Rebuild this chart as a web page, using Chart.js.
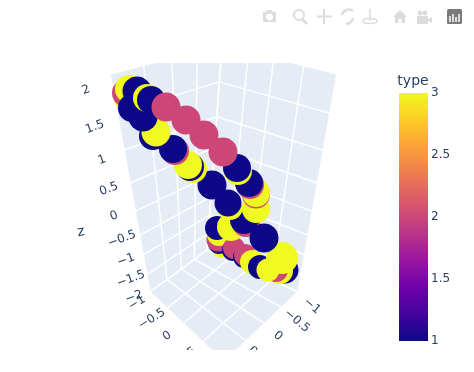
<!DOCTYPE html>
<html lang="en">
<head>
<meta charset="UTF-8">
<title>type</title>
<script src="https://cdn.jsdelivr.net/npm/chart.js"></script>
<style>
    body { margin: 0; background: #fff; }
    #wrap { position: relative; width: 474px; height: 372px; }
    #bar { position: absolute; left: 0; top: 0; }
</style>
</head>
<body>
<div id="wrap">
    <canvas id="grafico" width="474" height="372"></canvas>
    <svg id="bar" width="474" height="30" fill="#dcdcdc" stroke="none">
        <!-- camera -->
        <path d="M263 12h3l1.500-2h4l1.500 2h3v10h-13z M269.500 13.500a3.500 3.500 0 1 0 .01 0z" fill-rule="evenodd"/>
        <!-- zoom -->
        <circle cx="299" cy="15" r="5" fill="none" stroke="#dcdcdc" stroke-width="2"/>
        <path d="M302 19l5 5" stroke="#dcdcdc" stroke-width="2.500"/>
        <!-- pan -->
        <path d="M324 9v15M317 16.500h15" stroke="#dcdcdc" stroke-width="2"/>
        <!-- orbit -->
        <path d="M342 15a7 7 0 0 1 11-4M346 24a7 7 0 0 0 7-6" fill="none" stroke="#dcdcdc" stroke-width="2.500"/>
        <!-- turntable -->
        <path d="M370 9v12" stroke="#dcdcdc" stroke-width="1.500"/>
        <ellipse cx="370" cy="21" rx="7" ry="2.500" fill="none" stroke="#dcdcdc" stroke-width="1.500"/>
        <!-- home -->
        <path d="M400 10l7 7h-2v6h-3.500v-4h-3v4h-3.500v-6h-2z"/>
        <!-- video -->
        <rect x="417" y="16" width="11" height="8"/><circle cx="420" cy="13" r="2.500"/><circle cx="425" cy="13" r="2.500"/><path d="M428 19l4-2v6l-4-2z"/>
        <!-- plotly logo -->
        <rect x="447" y="9" width="15" height="15" rx="1.500" fill="#7a7a7a"/>
        <path d="M450 16v6M453 14v8M456 17v5M459 14v8" stroke="#fff" stroke-width="1.500"/>
    </svg>
</div>

<script>
    // pontos, na ordem de desenho (o de baixo primeiro)
    const pointX = [222,219,218,219,217, 233,234,244,245, 252,260, 285,280,276,268,282,
        231,246,244,264,
        256,256,256, 250,249,238,237,
        230,228,212, 193,190,188, 175,173, 153,156,
        128,126,129,132,143,137,147,151,
        166,186,204,223];
    const pointY = [248,243,240,234,228, 250,248,257,255, 262,267, 270,271,270,270,258,
        227,223,220,238,
        209,194.500,193, 185,183,171,168,
        207,203,185, 169,167,165, 151,149, 136,132,
        98,93,89,108,117,91,98,100,
        107,120,135,152];
    const pointType = [3,1,2,3,1, 1,2,1,2, 3,1, 1,3,2,3,3,
        3,2,1,1,
        3,2,3, 2,1,3,1,
        3,1,1, 3,1,3, 2,1, 1,3,
        3,2,3,1,1,1,3,1,
        2,2,2,2];
    const pointSize = [10,11,11.500,12,12, 11,11,11,11, 12,12, 13.500,13,12,11.500,16,
        14,14,14,14.500,
        14,14,14, 14,14,14,14,
        13,13.500,14.500, 14,14,14, 14,14, 14,14.500,
        14,14,14,14,14.500,14.500,14,14,
        14.500,14.500,14.500,14.500];

    const zTicks = ["2", "1.5", "1", "0.5", "0", "−0.5", "−1", "−1.5", "−2"];
    const leftTicks = ["−1", "−0.5", "0", "0.5"];
    const rightTicks = ["−1", "−0.5", "0", "0.5"];
    const colorTicks = [1, 1.5, 2, 2.5, 3];
    const colorStops = ["#0d0887", "#46039f", "#7201a8", "#9c179e", "#bd3786", "#d8576b", "#ed7953", "#fb9f3a", "#fdca26", "#f0f921"];

    const corTexto = "#2a3f5f";
    const fonte = "DejaVu Sans";

    // cantos da cena
    const topBack = [222, 45], leftTop = [110, 74], rightTop = [337, 74];
    const backFloor = [207, 250], leftFloor = [150, 292], rightFloor = [298, 292], frontFloor = [224, 362];

    const zFrac = [0, 0.18, 0.35, 0.50, 0.63, 0.74, 0.83, 0.92, 1];
    const leftFrac = [0, 0.30, 0.55, 0.78, 1];
    const rightFrac = [0, 0.23, 0.45, 0.71, 1];

    function mix(a, b, t) {
        return [a[0] + (b[0] - a[0]) * t, a[1] + (b[1] - a[1]) * t];
    }

    function corDoTipo(v) {
        if (v == 1) return "#0d0887";
        if (v == 2) return "#cc4778";
        return "#f0f921";
    }

    function linha(ctx, a, b) {
        ctx.beginPath();
        ctx.moveTo(a[0], a[1]);
        ctx.lineTo(b[0], b[1]);
        ctx.stroke();
    }

    function parede(ctx, a, b, c, d) {
        ctx.beginPath();
        [a, b, c, d].forEach(function (p) { ctx.lineTo(p[0], p[1]); });
        ctx.closePath();
        ctx.fill();
    }

    function rotulo(ctx, texto, x, y, graus, tam) {
        ctx.save();
        ctx.translate(x, y);
        ctx.rotate(graus * Math.PI / 180);
        ctx.font = tam + "px '" + fonte + "'";
        ctx.fillStyle = corTexto;
        ctx.textAlign = "center";
        ctx.textBaseline = "middle";
        ctx.fillText(texto, 0, 0);
        ctx.restore();
    }

    // paredes e grade da cena, antes dos pontos
    const cena = {
        id: "cena",
        beforeDatasetsDraw(chart) {
            const ctx = chart.ctx;
            ctx.save();
            ctx.beginPath();
            ctx.rect(0, 63, 474, 287);
            ctx.clip();
            ctx.fillStyle = "#e5ecf6";
            parede(ctx, leftTop, topBack, backFloor, leftFloor);
            parede(ctx, topBack, rightTop, rightFloor, backFloor);
            parede(ctx, leftFloor, backFloor, rightFloor, frontFloor);
            ctx.strokeStyle = "#ffffff";
            ctx.lineWidth = 1.5;
            zFrac.forEach(function (t) {
                const b = mix(topBack, backFloor, t);
                linha(ctx, mix(leftTop, leftFloor, t), b);
                linha(ctx, b, mix(rightTop, rightFloor, t));
            });
            leftFrac.forEach(function (t) {
                linha(ctx, mix(leftTop, topBack, t), mix(leftFloor, backFloor, t));
                linha(ctx, mix(leftFloor, backFloor, t), mix(frontFloor, rightFloor, t));
            });
            rightFrac.forEach(function (t) {
                linha(ctx, mix(topBack, rightTop, t), mix(backFloor, rightFloor, t));
                linha(ctx, mix(backFloor, rightFloor, t), mix(leftFloor, frontFloor, t));
            });
            ctx.restore();
        },
        afterDraw(chart) {
            const ctx = chart.ctx;
            const zPos = [[86, 90], [95, 127], [102, 160], [109, 189], [114, 216], [122, 239], [126, 260], [131, 279], [134, 297]];
            zTicks.forEach(function (t, i) { rotulo(ctx, t, zPos[i][0], zPos[i][1], -20, 12); });
            rotulo(ctx, "z", 81, 232, -10, 14);

            ctx.save();
            ctx.beginPath();
            ctx.rect(0, 0, 474, 350);
            ctx.clip();
            const lPos = [[137, 303], [152, 319], [167, 336], [187, 355]];
            leftTicks.forEach(function (t, i) { rotulo(ctx, t, lPos[i][0], lPos[i][1], -32, 12); });
            const rPos = [[312, 306], [297, 321], [278, 336], [257, 355]];
            rightTicks.forEach(function (t, i) { rotulo(ctx, t, rPos[i][0], rPos[i][1], 40, 12); });
            ctx.restore();

            // barra de cores
            const topo = 93, base = 341, esq = 399, larg = 29;
            const grad = ctx.createLinearGradient(0, base, 0, topo);
            colorStops.forEach(function (c, i) { grad.addColorStop(i / (colorStops.length - 1), c); });
            ctx.fillStyle = grad;
            ctx.fillRect(esq, topo, larg, base - topo);
            colorTicks.forEach(function (v) {
                const y = base - (v - 1) / 2 * (base - topo);
                ctx.font = "12px '" + fonte + "'";
                ctx.fillStyle = corTexto;
                ctx.textAlign = "left";
                ctx.textBaseline = "middle";
                ctx.fillText(String(v), 431, y);
            });
            rotulo(ctx, "type", 413, 81, 0, 14);
        }
    };

    const dados = pointX.map(function (x, i) {
        return { x: x, y: pointY[i], r: pointSize[i] };
    });

    new Chart(document.getElementById("grafico"), {
        type: "bubble",
        data: {
            datasets: [{
                label: "type",
                data: dados,
                backgroundColor: pointType.map(corDoTipo),
                borderWidth: 0,
                hoverBorderWidth: 0,
                clip: false
            }]
        },
        options: {
            responsive: false,
            animation: false,
            events: [],
            layout: { padding: 0, autoPadding: false },
            plugins: { legend: { display: false }, tooltip: { enabled: false } },
            scales: {
                x: { type: "linear", display: false, min: 0, max: 474 },
                y: { type: "linear", display: false, min: 0, max: 372, reverse: true }
            }
        },
        plugins: [cena]
    });
</script>
</body>
</html>
